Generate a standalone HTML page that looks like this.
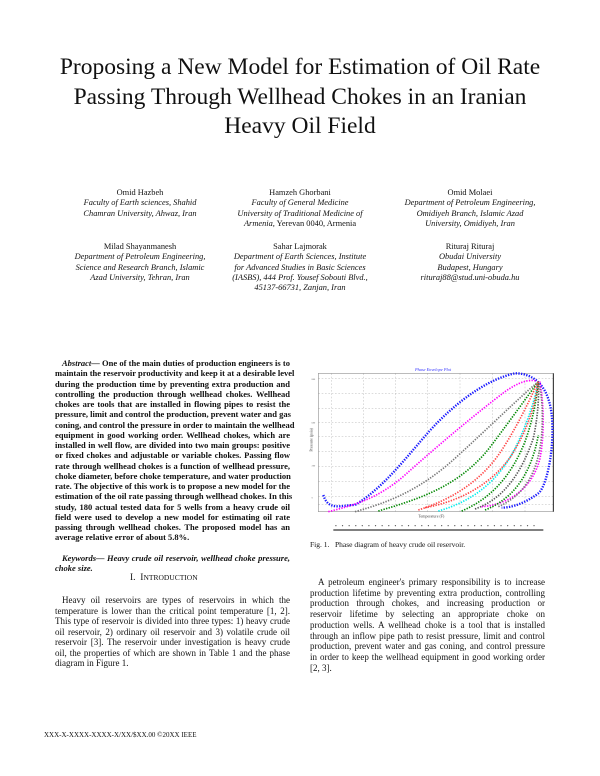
<!DOCTYPE html>
<html><head><meta charset="utf-8"><style>
body{margin:0;width:600px;height:776px;background:#fff;position:relative;overflow:hidden;font-family:"Liberation Serif",serif;color:#111}
.t{position:absolute;left:0;width:600px;text-align:center;font-size:23.5px;line-height:29.5px}
.a{position:absolute;text-align:center;font-size:8.4px;line-height:10.3px}
.a i{font-style:italic}
.l{position:absolute;white-space:nowrap;font-size:8.6px;line-height:10px;text-align:justify;text-align-last:justify}
.b .l{font-size:8.5px}
.b{font-weight:bold}
.e{text-align-last:left}
</style></head><body>
<div class="t" style="top:53px">Proposing a New Model for Estimation of Oil Rate<br>Passing Through Wellhead Chokes in an Iranian<br>Heavy Oil Field</div>

<div class="a" style="left:55px;width:170px;top:188px">Omid Hazbeh<br><i>Faculty of Earth sciences, Shahid<br>Chamran University, Ahwaz, Iran</i></div>
<div class="a" style="left:215px;width:170px;top:188px">Hamzeh Ghorbani<br><i>Faculty of General Medicine<br>University of Traditional Medicine of<br>Armenia,</i> Yerevan 0040, Armenia</div>
<div class="a" style="left:375px;width:190px;top:188px">Omid Molaei<br><i>Department of Petroleum Engineering,<br>Omidiyeh Branch, Islamic Azad<br>University, Omidiyeh, Iran</i></div>
<div class="a" style="left:55px;width:170px;top:242px">Milad Shayanmanesh<br><i>Department of Petroleum Engineering,<br>Science and Research Branch, Islamic<br>Azad University, Tehran, Iran</i></div>
<div class="a" style="left:215px;width:170px;top:242px">Sahar Lajmorak<br><i>Department of Earth Sciences, Institute<br>for Advanced Studies in Basic Sciences<br>(IASBS), 444 Prof. Yousef Sobouti Blvd.,<br>45137-66731, Zanjan, Iran</i></div>
<div class="a" style="left:375px;width:190px;top:242px">Rituraj Rituraj<br><i>Obudai University<br>Budapest, Hungary<br>rituraj88@stud.uni-obuda.hu</i></div>

<div class="b">
<div class="l" style="left:62px;width:228px;top:358px"><i>Abstract</i>— One of the main duties of production engineers is to</div>
<div class="l" style="left:55px;width:235px;top:368.25px">maintain the reservoir productivity and keep it at a desirable level</div>
<div class="l" style="left:55px;width:235px;top:378.5px">during the production time by preventing extra production and</div>
<div class="l" style="left:55px;width:235px;top:388.75px">controlling the production through wellhead chokes. Wellhead</div>
<div class="l" style="left:55px;width:235px;top:399px">chokes are tools that are installed in flowing pipes to resist the</div>
<div class="l" style="left:55px;width:235px;top:409.25px">pressure, limit and control the production, prevent water and gas</div>
<div class="l" style="left:55px;width:235px;top:419.5px">coning, and control the pressure in order to maintain the wellhead</div>
<div class="l" style="left:55px;width:235px;top:429.75px">equipment in good working order. Wellhead chokes, which are</div>
<div class="l" style="left:55px;width:235px;top:440px">installed in well flow, are divided into two main groups: positive</div>
<div class="l" style="left:55px;width:235px;top:450.25px">or fixed chokes and adjustable or variable chokes. Passing flow</div>
<div class="l" style="left:55px;width:235px;top:460.5px">rate through wellhead chokes is a function of wellhead pressure,</div>
<div class="l" style="left:55px;width:235px;top:470.75px">choke diameter, before choke temperature, and water production</div>
<div class="l" style="left:55px;width:235px;top:481px">rate. The objective of this work is to propose a new model for the</div>
<div class="l" style="left:55px;width:235px;top:491.25px">estimation of the oil rate passing through wellhead chokes. In this</div>
<div class="l" style="left:55px;width:235px;top:501.5px">study, 180 actual tested data for 5 wells from a heavy crude oil</div>
<div class="l" style="left:55px;width:235px;top:511.75px">field were used to develop a new model for estimating oil rate</div>
<div class="l" style="left:55px;width:235px;top:522px">passing through wellhead chokes. The proposed model has an</div>
<div class="l e" style="left:55px;width:235px;top:532.25px">average relative error of about 5.8%.</div>
<div class="l" style="left:62px;width:228px;top:553px"><i>Keywords— Heavy crude oil reservoir, wellhead choke pressure,</i></div>
<div class="l e" style="left:55px;width:235px;top:563px"><i>choke size.</i></div>
</div>
<div class="l e" style="left:130px;top:573px;font-size:9.5px">I.&nbsp;&nbsp;I<span style="font-size:7.5px">NTRODUCTION</span></div>
<div>
<div class="l" style="left:62px;width:228px;top:595px;font-size:9px">Heavy oil reservoirs are types of reservoirs in which the</div>
<div class="l" style="left:55px;width:235px;top:605.5px;font-size:9px">temperature is lower than the critical point temperature [1, 2].</div>
<div class="l" style="left:55px;width:235px;top:616px;font-size:9px">This type of reservoir is divided into three types: 1) heavy crude</div>
<div class="l" style="left:55px;width:235px;top:626.5px;font-size:9px">oil reservoir, 2) ordinary oil reservoir and 3) volatile crude oil</div>
<div class="l" style="left:55px;width:235px;top:637px;font-size:9px">reservoir [3]. The reservoir under investigation is heavy crude</div>
<div class="l" style="left:55px;width:235px;top:647.5px;font-size:9px">oil, the properties of which are shown in Table 1 and the phase</div>
<div class="l e" style="left:55px;width:235px;top:658px;font-size:9px">diagram in Figure 1.</div>

<div class="l e" style="left:310px;top:540px;font-size:7.5px">Fig. 1.&nbsp;&nbsp;&nbsp;Phase diagram of heavy crude oil reservoir.</div>
<div class="l" style="left:318px;width:227px;top:577px;font-size:9px">A petroleum engineer's primary responsibility is to increase</div>
<div class="l" style="left:310px;width:235px;top:587.7px;font-size:9px">production lifetime by preventing extra production, controlling</div>
<div class="l" style="left:310px;width:235px;top:598.4px;font-size:9px">production through chokes, and increasing production or</div>
<div class="l" style="left:310px;width:235px;top:609.1px;font-size:9px">reservoir lifetime by selecting an appropriate choke on</div>
<div class="l" style="left:310px;width:235px;top:619.8px;font-size:9px">production wells. A wellhead choke is a tool that is installed</div>
<div class="l" style="left:310px;width:235px;top:630.5px;font-size:9px">through an inflow pipe path to resist pressure, limit and control</div>
<div class="l" style="left:310px;width:235px;top:641.2px;font-size:9px">production, prevent water and gas coning, and control pressure</div>
<div class="l" style="left:310px;width:235px;top:651.9px;font-size:9px">in order to keep the wellhead equipment in good working order</div>
<div class="l e" style="left:310px;width:235px;top:662.6px;font-size:9px">[2, 3].</div>
</div>
<div class="l e" style="left:44px;top:730px;font-size:7px">XXX-X-XXXX-XXXX-X/XX/$XX.00 ©20XX IEEE</div>

<svg style="position:absolute;left:305px;top:285px" width="250" height="250" viewBox="0 0 750 750">
<g stroke="#bbb" stroke-width="1.5" stroke-dasharray="5,5" fill="none">
<path d="M40 280H745M40 325H745M40 370H745M40 412H745M40 455H745M40 500H745M40 545H745M40 590H745M40 635H745M40 658H745"/>
<path d="M80 265V680M175 265V680M272 265V680M368 265V680M465 265V680M563 265V680M660 265V680"/>
</g>
<rect x="40" y="265" width="705" height="415" fill="none" stroke="#999" stroke-width="2"/>
<line x1="745" y1="265" x2="745" y2="680" stroke="#222" stroke-width="3"/>
<text x="330" y="258" font-size="13" fill="#33f" font-style="italic">Phase Envelope Plot</text>
<text x="340" y="698" font-size="12" fill="#444">Temperature (F)</text>
<text x="22" y="500" font-size="12" fill="#444" transform="rotate(-90 22 500)">Pressure (psia)</text>
<g fill="none" stroke-width="5" stroke-dasharray="4,4">
<path stroke="#1a1aff" stroke-width="7" d="M55 630C70 680 110 660 150 660C250 600 330 480 400 410C480 330 560 280 630 265C700 265 740 320 742 420C745 520 720 610 700 625C660 655 620 668 590 668"/>
<path stroke="#f0f" d="M70 680C150 660 220 640 300 570C400 480 520 380 600 320C640 292 670 282 695 288M530 665C600 660 680 620 705 520C720 440 715 350 705 290"/>
<path stroke="#777" d="M150 680C260 650 350 610 450 520C560 420 640 340 700 290M580 665C660 630 700 560 710 450C715 380 710 320 700 290"/>
<path stroke="#080" d="M220 678C350 640 470 600 560 480C620 400 670 330 700 290M540 675C630 640 680 560 700 450"/>
<path stroke="#f44" d="M340 675C450 640 540 580 600 480C650 400 680 330 700 290"/>
<path stroke="#0ee" d="M400 678C500 650 580 590 630 490C670 410 690 340 700 290"/>
<path stroke="#080" d="M470 678C560 640 620 570 660 470C685 400 695 340 700 290"/>
<path stroke="#555" d="M510 672C600 640 650 560 685 460C700 390 702 330 700 290"/>
<path stroke="#f44" d="M360 668C460 650 560 600 620 510C670 430 690 360 700 290"/>
</g>
<g font-size="7" fill="#555"><text x="20" y="285">800</text><text x="20" y="415">600</text><text x="20" y="545">200</text><text x="20" y="640">0</text></g>
<text x="90" y="725" font-size="9" fill="#555" textLength="600">● ● ● ● ● ● ● ● ● ● ● ● ● ● ● ● ● ● ● ● ● ● ● ● ● ● ● ● ● ● ●</text>
<line x1="85" y1="735" x2="715" y2="735" stroke="#000" stroke-width="3"/>
</svg>
</body></html>
